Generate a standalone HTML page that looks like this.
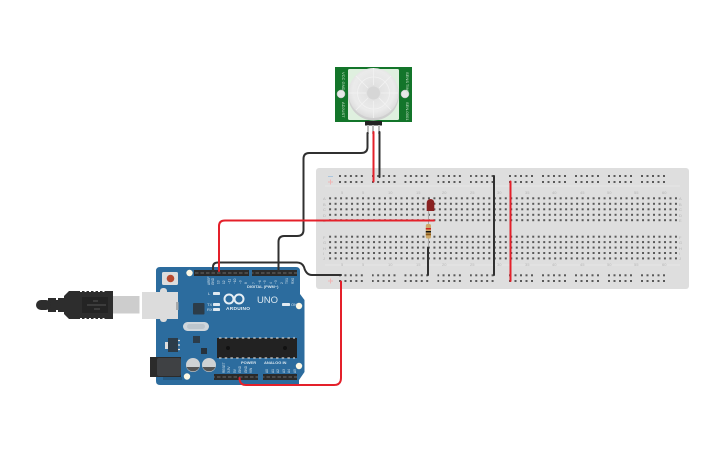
<!DOCTYPE html>
<html><head><meta charset="utf-8"><style>html,body{margin:0;padding:0;background:#fff}svg{display:block}text{font-family:"Liberation Sans",sans-serif}</style></head><body>
<svg width="725" height="453" viewBox="0 0 725 453" xmlns="http://www.w3.org/2000/svg">
<defs>
<pattern id="h" x="327.6" y="0" width="5.49" height="600" patternUnits="userSpaceOnUse"><rect x="1.5" y="0" width="2" height="600" fill="#595959"/></pattern>
<pattern id="p" x="339" y="0" width="5.45" height="600" patternUnits="userSpaceOnUse"><rect x="0" y="0" width="2" height="600" fill="#595959"/></pattern>
<pattern id="pins" x="194" y="0" width="5.5" height="600" patternUnits="userSpaceOnUse"><rect x="1" width="3.5" height="600" fill="#4a4a4a"/></pattern>
<radialGradient id="dome" cx="50%" cy="45%" r="55%"><stop offset="0" stop-color="#dedede"/><stop offset="0.75" stop-color="#ebebeb"/><stop offset="1" stop-color="#dcdcdc"/></radialGradient>
</defs>
<!-- breadboard -->
<rect x="316" y="168" width="373" height="121" rx="3" fill="#dedede"/>
<path d="M325 186H680M325 265H680" stroke="#e6e6e6" stroke-width="1"/>
<g fill="url(#h)">
<rect x="329" y="197.3" width="349" height="2"/><rect x="329" y="202.8" width="349" height="2"/><rect x="329" y="208.3" width="349" height="2"/><rect x="329" y="213.8" width="349" height="2"/><rect x="329" y="219.2" width="349" height="2"/>
<rect x="329" y="235.7" width="349" height="2"/><rect x="329" y="241.1" width="349" height="2"/><rect x="329" y="246.6" width="349" height="2"/><rect x="329" y="252" width="349" height="2"/><rect x="329" y="257.4" width="349" height="2"/>
</g>
<g fill="url(#p)">
<rect x="339" y="175" width="25" height="2"/><rect x="372" y="175" width="25" height="2"/><rect x="404.5" y="175" width="25" height="2"/><rect x="437.5" y="175" width="25" height="2"/><rect x="470" y="175" width="25" height="2"/>
<rect x="339" y="181" width="25" height="2"/><rect x="372" y="181" width="25" height="2"/><rect x="404.5" y="181" width="25" height="2"/><rect x="437.5" y="181" width="25" height="2"/><rect x="470" y="181" width="25" height="2"/>
<rect x="339" y="274.3" width="25" height="2"/><rect x="372" y="274.3" width="25" height="2"/><rect x="404.5" y="274.3" width="25" height="2"/><rect x="437.5" y="274.3" width="25" height="2"/><rect x="470" y="274.3" width="25" height="2"/>
<rect x="339" y="280" width="25" height="2"/><rect x="372" y="280" width="25" height="2"/><rect x="404.5" y="280" width="25" height="2"/><rect x="437.5" y="280" width="25" height="2"/><rect x="470" y="280" width="25" height="2"/>
</g>
<g fill="#595959">
<g id="r3"><rect x="509" y="175" width="2" height="2"/><rect x="514.5" y="175" width="2" height="2"/><rect x="520" y="175" width="2" height="2"/><rect x="525.5" y="175" width="2" height="2"/><rect x="531" y="175" width="2" height="2"/></g>
<use href="#r3" x="33"/><use href="#r3" x="66"/><use href="#r3" x="99"/><use href="#r3" x="132"/>
<use href="#r3" y="6"/><use href="#r3" x="33" y="6"/><use href="#r3" x="66" y="6"/><use href="#r3" x="99" y="6"/><use href="#r3" x="132" y="6"/>
<use href="#r3" y="99.3"/><use href="#r3" x="33" y="99.3"/><use href="#r3" x="66" y="99.3"/><use href="#r3" x="99" y="99.3"/><use href="#r3" x="132" y="99.3"/>
<use href="#r3" y="105"/><use href="#r3" x="33" y="105"/><use href="#r3" x="66" y="105"/><use href="#r3" x="99" y="105"/><use href="#r3" x="132" y="105"/>
</g>
<g font-size="4" fill="#b5b5b5">
<text x="341" y="194">5</text><text x="362" y="194">5</text><text x="388" y="194">10</text><text x="416" y="194">15</text><text x="442" y="194">20</text><text x="470" y="194">25</text><text x="497" y="194">30</text><text x="525" y="194">35</text><text x="552" y="194">40</text><text x="580" y="194">45</text><text x="607" y="194">50</text><text x="634" y="194">55</text><text x="662" y="194">60</text>
<text x="341" y="266">5</text><text x="362" y="266">5</text><text x="388" y="266">10</text><text x="416" y="266">15</text><text x="442" y="266">20</text><text x="470" y="266">25</text><text x="497" y="266">30</text><text x="525" y="266">35</text><text x="552" y="266">40</text><text x="580" y="266">45</text><text x="607" y="266">50</text><text x="634" y="266">55</text><text x="662" y="266">60</text>
<text x="323" y="200">A</text><text x="323" y="206">B</text><text x="323" y="211">C</text><text x="323" y="217">D</text><text x="323" y="222">E</text><text x="323" y="239">F</text><text x="323" y="244">G</text><text x="323" y="250">H</text><text x="323" y="255">I</text><text x="323" y="260">J</text>
<text x="679" y="200">A</text><text x="679" y="206">B</text><text x="679" y="211">C</text><text x="679" y="217">D</text><text x="679" y="222">E</text><text x="679" y="239">F</text><text x="679" y="244">G</text><text x="679" y="250">H</text><text x="679" y="255">I</text><text x="679" y="260">J</text>
</g>
<path d="M328 176.500h5" stroke="#a9c5dd"/><path d="M328 182h5M330.500 179.500v5M328 281h5M330.500 278.500v5" stroke="#efb5b5"/>

<!-- PIR -->
<rect x="335" y="67" width="77" height="55" fill="#13752a"/>
<rect x="348" y="69" width="51" height="51" rx="1.500" fill="#dff0df"/>
<circle cx="373.500" cy="95" r="25.500" fill="#cfcfcf"/>
<circle cx="373.500" cy="93" r="25" fill="url(#dome)"/>
<g stroke="#f2f2f2" stroke-width=".8" fill="none"><circle cx="373.500" cy="93" r="16"/><path d="M373.500 68V85M373.500 101V118M349 93H366M381 93H398M356 76L368 88M379 98L391 110M391 76L379 88M368 98L356 110"/></g>
<circle cx="373.500" cy="93" r="6.500" fill="#d6d6d6"/>
<circle cx="341" cy="94" r="4" fill="#e8e8e8" stroke="#bbb" stroke-width=".5"/><circle cx="405" cy="94" r="4" fill="#e8e8e8" stroke="#bbb" stroke-width=".5"/>
<g fill="#cde3cd" font-size="4"><text transform="translate(342,72) rotate(90)">VCC GND</text><text transform="translate(342,102) rotate(90)">ADJUST</text><text transform="translate(406,72) rotate(90)">SENS TIME</text><text transform="translate(406,102) rotate(90)">SEN-0001</text></g>
<rect x="365" y="121" width="17" height="4.500" fill="#222"/>
<rect x="367" y="125" width="2" height="9" fill="#bbb"/><rect x="372" y="125" width="2" height="9" fill="#bbb"/><rect x="378" y="125" width="2" height="9" fill="#bbb"/>

<!-- Arduino -->
<path d="M160 267H296Q300 267 300 271V294L304.500 300V372L299 380V385H160Q156 385 156 381V271Q156 267 160 267Z" fill="#2c6c9e"/>
<rect x="194" y="270" width="55" height="6" fill="#2a2a2a"/><rect x="252" y="270" width="45" height="6" fill="#2a2a2a"/>
<rect x="214" y="374" width="44" height="6" fill="#2a2a2a"/><rect x="263" y="374" width="34" height="6" fill="#2a2a2a"/>
<rect x="194" y="272" width="55" height="2" fill="url(#pins)"/><rect x="252" y="272" width="45" height="2" fill="url(#pins)"/>
<rect x="214" y="376" width="44" height="2" fill="url(#pins)"/><rect x="263" y="376" width="34" height="2" fill="url(#pins)"/>
<circle cx="189.500" cy="273" r="3.200" fill="#fdf8e4"/><circle cx="299" cy="306" r="3.200" fill="#fdf8e4"/><circle cx="187" cy="376.500" r="3.200" fill="#fdf8e4"/><circle cx="299" cy="366" r="3.200" fill="#fdf8e4"/>
<rect x="162" y="272" width="16" height="13" rx="1.500" fill="#ddd"/><circle cx="170.500" cy="278.500" r="3.800" fill="#b8492f"/>
<rect x="193" y="303" width="11.500" height="11.500" rx="1" fill="#2c3c49"/>
<rect x="193" y="336" width="7" height="7" fill="#2c3c49"/>
<rect x="183" y="322" width="26" height="9" rx="4.500" fill="#cfd6dc"/><rect x="187" y="324" width="18" height="5" rx="2.500" fill="#bcc5cd"/>
<rect x="217" y="338" width="80" height="20" fill="#222"/>
<circle cx="228" cy="348" r="2" fill="#111"/><circle cx="285" cy="348" r="2" fill="#111"/>
<path d="M219 338h76M219 358h76" stroke="#ccc" stroke-width="1.200" stroke-dasharray="2.500 3.200"/>
<rect x="168" y="338" width="10" height="14" fill="#2c3c49"/><rect x="165" y="342" width="3" height="7" fill="#ddd"/>
<path d="M178 340.500h2M178 345h2M178 349.500h2" stroke="#ddd" stroke-width="1.200"/>
<rect x="201" y="348" width="6" height="6" fill="#26323d"/>
<circle cx="193" cy="365" r="7" fill="#cfd2d4"/><path d="M186.500 367a7 7 0 0 0 13 0z" fill="#555"/>
<circle cx="209" cy="365" r="7" fill="#cfd2d4"/><path d="M202.500 367a7 7 0 0 0 13 0z" fill="#555"/>
<path d="M150 357H181V377H150Z" fill="#2b2b2b"/><rect x="157" y="358" width="24" height="18" rx="2" fill="#3f4144"/>
<rect x="163" y="377" width="19" height="3" fill="#255a84"/>
<g fill="#dfe9f1"><rect x="213" y="292" width="7" height="3" rx=".8"/><rect x="213" y="303" width="7" height="3" rx=".8"/><rect x="213" y="308" width="7" height="3" rx=".8"/><rect x="282" y="303" width="8" height="3" rx=".8"/></g>
<g fill="#d8e5ee" font-size="4"><text x="208" y="295">L</text><text x="207" y="306">TX</text><text x="207" y="311">RX</text><text x="291" y="306">ON</text>
<text x="247" y="288" font-weight="700">DIGITAL (PWM~)</text><text x="241" y="364" font-weight="700">POWER</text><text x="264" y="364" font-weight="700">ANALOG IN</text></g>
<g fill="#d8e5ee" font-size="3.200"><text transform="translate(210,285) rotate(-90)">AREF</text><text transform="translate(214,285) rotate(-90)">GND</text><text transform="translate(219.500,284) rotate(-90)">13</text><text transform="translate(225,284) rotate(-90)">12</text><text transform="translate(230.500,284) rotate(-90)">~11</text><text transform="translate(236,284) rotate(-90)">~10</text><text transform="translate(241.500,284) rotate(-90)">~9</text><text transform="translate(247,284) rotate(-90)">8</text><text transform="translate(255,284) rotate(-90)">7</text><text transform="translate(261,284) rotate(-90)">~6</text><text transform="translate(266,284) rotate(-90)">~5</text><text transform="translate(272,284) rotate(-90)">4</text><text transform="translate(277,284) rotate(-90)">~3</text><text transform="translate(283,284) rotate(-90)">2</text><text transform="translate(288,284) rotate(-90)">TX1</text><text transform="translate(294,284) rotate(-90)">RX0</text>
<text transform="translate(225,373) rotate(-90)">RESET</text><text transform="translate(230,373) rotate(-90)">3.3V</text><text transform="translate(236,373) rotate(-90)">5V</text><text transform="translate(241,373) rotate(-90)">GND</text><text transform="translate(247,373) rotate(-90)">GND</text><text transform="translate(252,373) rotate(-90)">VIN</text><text transform="translate(268,373) rotate(-90)">A0</text><text transform="translate(274,373) rotate(-90)">A1</text><text transform="translate(279,373) rotate(-90)">A2</text><text transform="translate(285,373) rotate(-90)">A3</text><text transform="translate(290,373) rotate(-90)">A4</text><text transform="translate(296,373) rotate(-90)">A5</text></g>
<g fill="none" stroke="#e6eff5" stroke-width="2"><circle cx="229" cy="299" r="4.500"/><circle cx="239" cy="299" r="4.500"/></g>
<text x="226" y="310" font-size="4.800" font-weight="700" fill="#e6eff5" textLength="24">ARDUINO</text>
<text x="257" y="303" font-size="9.500" fill="#dce8f0" textLength="21">UNO</text>

<!-- USB -->
<rect x="160" y="288" width="7" height="34" rx="3" fill="#dcdcdc"/>
<rect x="142" y="292" width="36" height="27" fill="#dcdcdc"/><rect x="176" y="302" width="2.500" height="8" fill="#aaa"/>
<rect x="113" y="296" width="26.500" height="17.500" fill="#cdcdcd"/>
<path d="M69 291H113V319H69L64 314V296Z" fill="#2d2d2d"/>
<path d="M80 291.500h26M80 318.500h26" stroke="#fff" stroke-width="1" stroke-dasharray="2 2.500"/>
<rect x="82" y="297" width="26" height="16" fill="#242424"/>
<path d="M87 305H106M93 301H98M94 309H100" stroke="#555" fill="none" stroke-width="1"/>
<rect x="48" y="298" width="8" height="14" fill="#2d2d2d"/><rect x="58" y="298" width="7" height="14" fill="#2d2d2d"/><rect x="54" y="300" width="5" height="10" fill="#2d2d2d"/>
<rect x="36" y="300" width="15" height="10" rx="5" fill="#2d2d2d"/>

<!-- LED & resistor -->
<path d="M426.700 203a3.800 4 0 0 1 7.600 0V211H426.700Z" fill="#8a2222"/>
<rect x="428" y="211" width="1" height="13" fill="#aaa"/>
<rect x="428" y="238" width="1" height="9" fill="#aaa"/>
<rect x="425.800" y="224" width="5.200" height="14.500" rx="1.800" fill="#cfa968"/>
<rect x="425.800" y="228" width="5.200" height="1.500" fill="#c22"/><rect x="425.800" y="231" width="5.200" height="1.500" fill="#111"/><rect x="425.800" y="233.500" width="5.200" height="1.800" fill="#8a5a1c"/>

<!-- wires -->
<g fill="none" stroke-linecap="round" stroke-linejoin="round" stroke-width="2">
<path d="M367.500 133V147Q367.500 153 361 153H309Q303.500 153 303.500 159V230Q303.500 236 297 236H284Q278.500 236 278.500 242V271" stroke="#303030"/>
<path d="M213 271V267Q213 262.500 218 262.500H297Q302 262.500 304 267Q306 275 312 275H341" stroke="#303030"/>
<path d="M219 271V226Q219 220.500 225 220.500H434" stroke="#e4202a"/>
<path d="M341 281.500V378Q341 385 334 385H246Q239.500 385 239.500 378" stroke="#e4202a"/>
<path d="M373.500 132V181.500" stroke="#e4202a"/>
<path d="M379.500 132V177" stroke="#303030"/>
<path d="M428 247.500V275" stroke="#303030"/>
<path d="M494 176V275" stroke="#303030"/>
<path d="M510.500 181.500V281" stroke="#e4202a"/>
</g>
</svg>
</body></html>
